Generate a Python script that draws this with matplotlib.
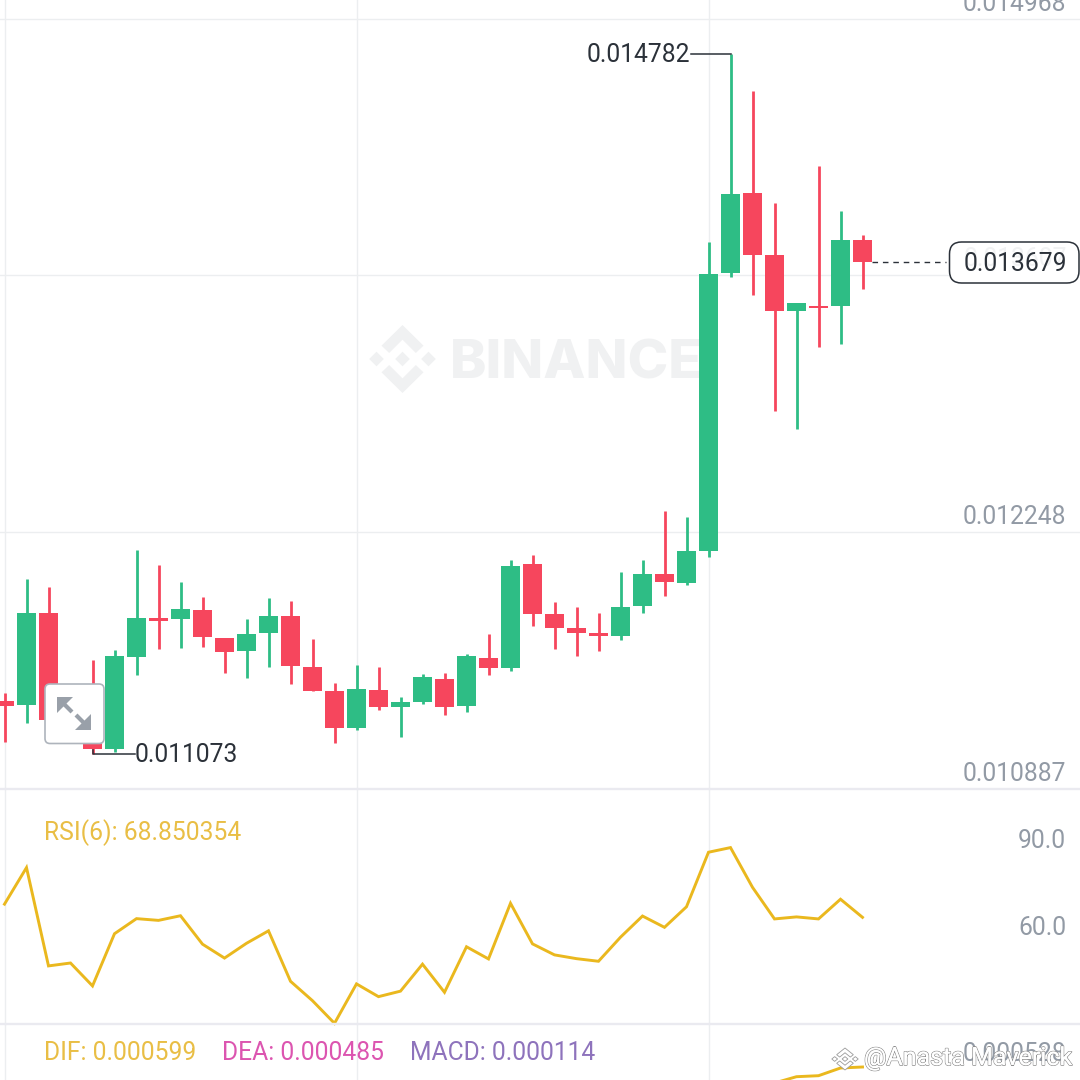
import matplotlib
matplotlib.use("Agg")
import matplotlib.pyplot as plt
from matplotlib.patches import FancyBboxPatch, Polygon
import matplotlib.patheffects as pe

plt.rcParams['font.family'] = ['Roboto', 'DejaVu Sans']

# ---------- data (prices in units of 1e-6) ----------
opens = [11353, 11332, 11820, 11242, 11173, 11099, 11586, 11793, 11788, 11835,
         11687, 11618, 11714, 11804, 11533, 11406, 11210, 11412, 11322, 11348,
         11470, 11327, 11581, 11528, 12079, 11814, 11740, 11714, 11698, 11857,
         12026, 11979, 12148, 13621, 14045, 13716, 13420, 13446, 13446, 13796]
highs = [11396, 12000, 11957, 11332, 11571, 11624, 12153, 12074, 11984, 11904,
         11687, 11788, 11899, 11883, 11682, 11449, 11544, 11533, 11375, 11496,
         11502, 11602, 11708, 12100, 12127, 11878, 11851, 11820, 12037, 12100,
         12360, 12328, 13785, 14782, 14585, 13992, 13462, 14188, 13950, 13822]
lows = [11136, 11237, 11253, 11200, 11073, 11083, 11491, 11629, 11634, 11639,
        11502, 11475, 11533, 11443, 11406, 11131, 11200, 11306, 11163, 11337,
        11279, 11295, 11491, 11512, 11751, 11629, 11592, 11618, 11677, 11820,
        11910, 11968, 12116, 13600, 13505, 12890, 12795, 13229, 13245, 13536]
closes = [11327, 11820, 11253, 11279, 11099, 11592, 11793, 11777, 11841, 11692,
          11613, 11708, 11804, 11539, 11406, 11210, 11417, 11322, 11348, 11480,
          11322, 11592, 11528, 12069, 11814, 11740, 11714, 11698, 11851, 12026,
          11984, 12148, 13616, 14040, 13716, 13420, 13462, 13436, 13796, 13679]
rsi = [73.4, 86.0, 52.1, 53.1, 45.2, 63.2, 68.4, 67.8, 69.4, 59.6,
       54.8, 59.9, 64.2, 46.8, 40.1, 32.3, 45.9, 41.5, 43.4, 52.7,
       43.0, 58.7, 54.5, 73.7, 59.7, 55.9, 54.6, 53.7, 62.0, 69.3,
       65.4, 72.5, 91.3, 92.9, 79.2, 68.3, 69.0, 68.3, 75.1, 68.85]
dif_idx = [35, 36, 37, 38, 39]
dif = [0.000120, 0.000308, 0.000338, 0.000569, 0.000599]
price_ticks = [0.014968, 0.013608, 0.012248, 0.010887]
price_labels = ["0.014968", "", "0.012248", "0.010887"]
rsi_ticks = [90.0, 60.0]
rsi_labels = ["90.0", "60.0"]
macd_tick = [0.000528]
macd_labels = ["0.000528"]
grid_idx = [0, 16, 32]

GREEN, RED = '#2EBD85', '#F6465D'
GRID = '#ECEEF0'
SEP = '#EAEAF0'
GRAY = '#929AA5'
DARK = '#2B3139'
YEL = '#EAB81E'
FS = 17.75
W = H = 1080

fig = plt.figure(figsize=(10.8, 10.8), dpi=100, facecolor='white')


def rect(y0, y1):
    return [0, 1 - y1 / H, 1, (y1 - y0) / H]


# x axis shared: candle i centred at 4.5 + 22 i pixels
xlim = (-4.5 / 22, (W - 4.5) / 22)

bg = fig.add_axes([0, 0, 1, 1], zorder=0)
bg.set_xlim(0, W)
bg.set_ylim(H, 0)
bg.axis('off')


def logo(ax, cx, cy, sx, sy, **kw):
    d = 22
    for ox, oy in [(0, 0), (-78, 0), (78, 0)]:
        ax.add_patch(Polygon([(cx + (ox - d) * sx, cy + oy * sy), (cx + ox * sx, cy + (oy - d) * sy),
                              (cx + (ox + d) * sx, cy + oy * sy), (cx + ox * sx, cy + (oy + d) * sy)], **kw))
    for s in (-1, 1):
        pts = [(0, 102), (63, 40), (40, 18), (0, 58), (-40, 18), (-63, 40)]
        ax.add_patch(Polygon([(cx + a * sx, cy + s * b * sy) for a, b in pts], **kw))


logo(bg, 402.5, 359, 1 / 3, 1 / 3, facecolor='#F0F1F2', edgecolor='none')
bg.text(450, 359, "BINANCE", family='Inter', weight=800, fontsize=39.5, color='#F0F1F2',
        ha='left', va='center_baseline')


def style(ax):
    ax.patch.set_alpha(0)
    ax.set_xlim(*xlim)
    ax.set_xticks(grid_idx)
    ax.grid(True, axis='both', color=GRID, lw=1.0)
    ax.set_axisbelow(True)
    ax.tick_params(length=0, labelbottom=False, labelleft=False)
    for s in ax.spines.values():
        s.set_visible(False)


def tick_labels(ax, vals, labels):
    for v, l in zip(vals, labels):
        ax.annotate(l, xy=(1, v), xycoords=('axes fraction', 'data'),
                    xytext=(-14, 15), textcoords='offset pixels', ha='right', va='center',
                    fontsize=FS, color=GRAY, annotation_clip=False)


# ---------- price panel ----------
ax = fig.add_axes(rect(0, 789), zorder=1)
style(ax)
ax.set_ylim(0.010887, 0.010887 + 789 * 5.2986e-6)
ax.set_yticks(price_ticks)
xs = list(range(len(opens)))
cols = [GREEN if c >= o else RED for o, c in zip(opens, closes)]
ax.vlines(xs, [l * 1e-6 for l in lows], [h * 1e-6 for h in highs], colors=cols, lw=2.0, zorder=3,
          capstyle='butt')
ax.bar(xs, [abs(c - o) * 1e-6 for o, c in zip(opens, closes)],
       bottom=[min(o, c) * 1e-6 for o, c in zip(opens, closes)],
       width=0.89, color=cols, zorder=4, linewidth=0)
tick_labels(ax, price_ticks, price_labels)

# extreme markers
ax.plot([33, 33 - 40 / 22], [0.014782, 0.014782], color=DARK, lw=1.1, zorder=5)
ax.annotate("0.014782", xy=(33 - 40 / 22, 0.014782), xytext=(0, -1), textcoords='offset pixels',
            ha='right', va='center', fontsize=FS, color=DARK)
ax.plot([4, 4, 4 + 42 / 22], [0.011095, 0.011073, 0.011073], color=DARK, lw=1.1, zorder=5)
ax.annotate("0.011073", xy=(4 + 42 / 22, 0.011073), xytext=(0, -1), textcoords='offset pixels',
            ha='left', va='center', fontsize=FS, color=DARK)
# last price
ax.plot([39.45, 42.8], [0.013679, 0.013679], color=DARK, lw=1.0, ls=(0, (4, 3.5)), zorder=5)

# ---------- RSI panel ----------
ax2 = fig.add_axes(rect(789, 1024), zorder=1)
style(ax2)
ax2.set_ylim(60 - 81 / 2.9, 60 + 154 / 2.9)
ax2.set_yticks([])
ax2.plot(xs, rsi, color=YEL, lw=2.1, solid_joinstyle='miter', zorder=3, clip_on=False)
tick_labels(ax2, rsi_ticks, rsi_labels)
ax2.text(44 / W, (1024 - 833) / 235, "RSI(6): 68.850354", transform=ax2.transAxes, color='#E9BE45',
         fontsize=FS, va='center', ha='left')

# ---------- MACD panel ----------
ax3 = fig.add_axes(rect(1024, 1080), zorder=1)
style(ax3)
ax3.set_ylim(0.000209, 0.001889)
ax3.set_yticks([])
ax3.plot(dif_idx, dif, color=YEL, lw=2.1, zorder=3)
ax3.annotate(macd_labels[0], xy=(1, macd_tick[0]), xycoords=('axes fraction', 'data'),
             xytext=(-14, 15.5), textcoords='offset pixels', ha='right', va='center',
             fontsize=FS, color=GRAY)
for x, s, c in [(44, "DIF: 0.000599", '#E9BE45'), (222, "DEA: 0.000485", '#DC55B0'),
                (410, "MACD: 0.000114", '#8E73BC')]:
    ax3.text(x / W, (1080 - 1053) / 56, s, transform=ax3.transAxes, color=c, fontsize=FS,
             va='center', ha='left')

# ---------- overlay ----------
top = fig.add_axes([0, 0, 1, 1], zorder=5)
top.set_xlim(0, W)
top.set_ylim(H, 0)
top.axis('off')
top.patch.set_alpha(0)
for y in (789, 1024):
    top.plot([0, W], [y, y], color=SEP, lw=1.7, zorder=1)

# expand button
top.add_patch(FancyBboxPatch((45, 684), 59, 59.5, boxstyle='round,pad=0,rounding_size=5',
                             facecolor='white', edgecolor='#AEB4BC', lw=1.2, zorder=6))
ICON = '#99A0A9'
top.add_patch(Polygon([(57, 697), (73, 697), (57, 713)], facecolor=ICON, edgecolor='none', zorder=7))
top.add_patch(Polygon([(91, 730), (91, 714), (75, 730)], facecolor=ICON, edgecolor='none', zorder=7))
top.plot([63, 72], [703, 712], color=ICON, lw=3.0, zorder=7, solid_capstyle='butt')
top.plot([76, 85], [715, 724], color=ICON, lw=3.0, zorder=7, solid_capstyle='butt')

# last price tag
top.add_patch(FancyBboxPatch((949.5, 242), 129.5, 41, boxstyle='round,pad=0,rounding_size=12',
                             facecolor='white', edgecolor=DARK, lw=1.1, zorder=6))
top.text(1015, 259, "0.013607", fontsize=FS, color='#F1F2F3', ha='center', va='center', zorder=7)
top.text(1015, 264, "0.013679", fontsize=FS, color=DARK, ha='center', va='center', zorder=8)

# author watermark
logo(top, 845, 1059, 13.5 / 102, 11 / 102, facecolor='white', edgecolor='#9a9a9a', lw=0.6, zorder=8)
top.text(864, 1058, "@Anasta Maverick", fontsize=18.0, color='white', ha='left', va='center', zorder=9,
         path_effects=[pe.withStroke(linewidth=1.1, foreground='#8f8f8f'), pe.Normal()])

fig.savefig("out.png", dpi=100)
